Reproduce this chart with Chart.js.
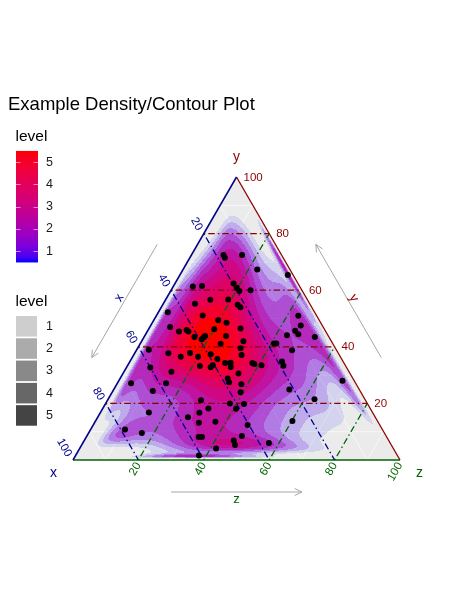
<!DOCTYPE html>
<html>
<head>
<meta charset="utf-8">
<script src="https://cdn.jsdelivr.net/npm/chart.js@4.4.1/dist/chart.umd.min.js"></script>
<style>
  html, body { margin: 0; padding: 0; background: #ffffff; }
  canvas { display: block; }
</style>
</head>
<body>
<canvas id="tern" width="474" height="612" style="width:474px;height:612px"></canvas>
<script>
// Sample compositions, in percent (x + y + z = 100)
const compX = [17.8,17.8,12.1,10.0,1.6,32.7,29.8,19.7,19.5,19.3,15.7,44.9,35.1,29.7,24.2,22.2,21.8,34.8,30.9,28.8,
  46.8,44.9,42.3,42.0,33.7,25.5,41.1,39.3,38.4,37.7,31.3,26.9,34.3,29.0,29.9,57.3,52.0,48.8,45.3,43.5,
  39.2,38.0,36.3,34.6,35.3,28.0,27.6,25.6,44.6,41.5,40.5,18.7,19.0,60.0,54.3,34.1,38.3,38.5,58.0,68.7,
  35.1,63.4,36.8,21.4,3.6,50.3,42.0,37.8,68.4,53.0,49.5,41.1,57.3,54.9,49.7,26.0,40.4,15.4,78.7,74.2,
  57.5,56.5,47.4,54.2,47.8,44.1,60.7,37.1,5.6,6.6,9.2,8.9,12.5,4.3,17.9,17.2,13.6];
const compY = [72.4,71.5,72.4,67.3,65.4,61.3,61.5,62.4,60.9,59.7,60.0,52.2,55.2,56.6,56.7,54.9,54.0,51.1,49.4,48.5,
  47.0,45.4,45.9,45.4,46.2,46.5,43.5,42.7,43.3,43.8,43.8,42.0,41.1,39.5,37.1,39.0,37.7,36.5,37.8,36.5,
  37.4,35.7,34.3,34.4,32.9,34.3,33.9,33.5,33.2,32.8,33.5,34.8,33.3,32.7,31.2,30.6,28.8,27.5,27.1,27.1,
  26.8,24.4,23.9,24.9,28.0,21.1,20.0,19.8,16.8,16.7,18.2,18.1,15.1,13.2,13.5,13.8,12.4,21.5,10.8,9.5,
  8.1,8.1,6.9,4.1,5.3,8.5,1.6,6.0,51.0,47.5,45.7,44.4,44.1,43.5,41.2,41.2,38.8];
const compZ = [9.8,10.7,15.5,22.7,33.0,6.0,8.7,17.9,19.6,21.0,24.3,2.9,9.7,13.7,19.1,22.9,24.2,14.1,19.7,22.7,
  6.2,9.7,11.8,12.6,20.1,28.0,15.4,18.0,18.3,18.5,24.9,31.1,24.6,31.5,33.0,3.7,10.3,14.7,16.9,20.0,
  23.4,26.3,29.4,31.0,31.8,37.7,38.5,40.9,22.2,25.7,26.0,46.5,47.7,7.3,14.5,35.3,32.9,34.0,14.9,4.2,
  38.1,12.2,39.3,53.7,68.4,28.6,38.0,42.4,14.8,30.3,32.3,40.8,27.6,31.9,36.8,60.2,47.2,63.1,10.5,16.3,
  34.4,35.4,45.7,41.7,46.9,47.4,37.7,56.9,43.4,45.9,45.1,46.7,43.4,52.2,40.9,41.6,47.6];

// Axis breaks and labels
const gridBreaks = [20, 40, 60, 80];
const minorBreaks = [10, 30, 50, 70, 90];
const tickValues = [20, 40, 60, 80, 100];
const tickLabels = ['20', '40', '60', '80', '100'];
const axisNames = ['x', 'y', 'z'];

// Density contour levels and legend entries
const contourLevels = [0.5, 1.0, 1.5, 2.0, 2.5, 3.0, 3.5, 4.0, 4.5, 5.0, 5.5];
const legendLevels = [1, 2, 3, 4, 5];
const chartTitle = 'Example Density/Contour Plot';
const legendTitle = 'level';

const COL_X = '#00008B', COL_Y = '#8B0000', COL_Z = '#006400';
const FONT = '"Liberation Sans", Arial, sans-serif';
const H3 = Math.sqrt(3) / 2;
const LEVEL_MIN = 0.5, LEVEL_MAX = 5.5;
const BW_ADJUST = 1.1;

// ternary (x at left, y at top, z at right) to cartesian
function toCart(x, y, z) {
  const s = x + y + z;
  return { x: (z + y / 2) / s, y: (y / s) * H3 };
}

// ---- colour helpers (CIELAB ramp blue -> red)
function lin(c) { c /= 255; return c <= 0.04045 ? c / 12.92 : Math.pow((c + 0.055) / 1.055, 2.4); }
function unlin(c) { const v = c <= 0.0031308 ? 12.92 * c : 1.055 * Math.pow(c, 1 / 2.4) - 0.055; return Math.max(0, Math.min(255, Math.round(v * 255))); }
function toLab(rgb) {
  const r = lin(rgb[0]), g = lin(rgb[1]), b = lin(rgb[2]);
  const X = (0.4124 * r + 0.3576 * g + 0.1805 * b) / 0.95047;
  const Y = 0.2126 * r + 0.7152 * g + 0.0722 * b;
  const Z = (0.0193 * r + 0.1192 * g + 0.9505 * b) / 1.08883;
  const f = t => t > 0.008856 ? Math.cbrt(t) : 7.787 * t + 16 / 116;
  const fx = f(X), fy = f(Y), fz = f(Z);
  return [116 * fy - 16, 500 * (fx - fy), 200 * (fy - fz)];
}
function fromLab(lab) {
  const fy = (lab[0] + 16) / 116, fx = fy + lab[1] / 500, fz = fy - lab[2] / 200;
  const fi = t => t > 0.206893 ? t * t * t : (t - 16 / 116) / 7.787;
  const X = fi(fx) * 0.95047, Y = fi(fy), Z = fi(fz) * 1.08883;
  const r = 3.2406 * X - 1.5372 * Y - 0.4986 * Z;
  const g = -0.9689 * X + 1.8758 * Y + 0.0415 * Z;
  const b = 0.0557 * X - 0.2040 * Y + 1.0570 * Z;
  return [unlin(r), unlin(g), unlin(b)];
}
const LAB_LOW = toLab([0, 0, 255]), LAB_HIGH = toLab([255, 0, 0]);
function rampColor(level) {
  const t = Math.max(0, Math.min(1, (level - LEVEL_MIN) / (LEVEL_MAX - LEVEL_MIN)));
  return fromLab([0, 1, 2].map(i => LAB_LOW[i] + (LAB_HIGH[i] - LAB_LOW[i]) * t));
}
function alphaOf(level) {
  return 0.1 + 0.9 * (level - LEVEL_MIN) / (LEVEL_MAX - LEVEL_MIN);
}

// ---- kernel density estimated in isometric log-ratio space,
//      expressed back on the triangle through the ilr Jacobian
function ilr(a, b, c) {
  return [Math.log(a / b) * Math.SQRT1_2, Math.log((a * b) / (c * c)) / Math.sqrt(6)];
}
function quantile(sorted, p) {
  const h = (sorted.length - 1) * p, lo = Math.floor(h);
  return sorted[lo] + (sorted[Math.min(lo + 1, sorted.length - 1)] - sorted[lo]) * (h - lo);
}
function bandwidthNrd(v) {
  const s = v.slice().sort((p, q) => p - q);
  const n = v.length, mean = v.reduce((p, q) => p + q, 0) / n;
  const sd = Math.sqrt(v.reduce((p, q) => p + (q - mean) * (q - mean), 0) / (n - 1));
  const iqr = (quantile(s, 0.75) - quantile(s, 0.25)) / 1.34;
  return 4 * 1.06 * Math.min(sd, iqr) * Math.pow(n, -0.2);
}

let densityImage = null;
function buildDensity(chart) {
  const a = chart.chartArea, sx = chart.scales.x, sy = chart.scales.y;
  const W = Math.ceil(a.right - a.left), H = Math.ceil(a.bottom - a.top);
  const U = [], V = [];
  for (let k = 0; k < compX.length; k++) {
    const p = ilr(compX[k], compY[k], compZ[k]);
    U.push(p[0]); V.push(p[1]);
  }
  const su = BW_ADJUST * bandwidthNrd(U) / 4, sv = BW_ADJUST * bandwidthNrd(V) / 4;
  const norm = 1 / (U.length * 2 * Math.PI * su * sv);
  const uMin = Math.min(...U), uMax = Math.max(...U), vMin = Math.min(...V), vMax = Math.max(...V);
  const ux = 0.5 * (uMax - uMin), vx = 0.5 * (vMax - vMin);
  const layers = contourLevels.map(l => ({ l, c: rampColor(l), al: alphaOf(l) }));
  const cv = document.createElement('canvas');
  cv.width = W; cv.height = H;
  const cx = cv.getContext('2d');
  const img = cx.createImageData(W, H);
  for (let j = 0; j < H; j++) {
    const Y = sy.getValueForPixel(a.top + j + 0.5);
    for (let i = 0; i < W; i++) {
      const X = sx.getValueForPixel(a.left + i + 0.5);
      const ty = Y / H3, tz = X - ty / 2, tx = 1 - ty - tz;
      if (tx <= 0 || ty <= 0 || tz <= 0) continue;
      const q = ilr(tx, ty, tz);
      if (q[0] < uMin - ux || q[0] > uMax + ux || q[1] < vMin - vx || q[1] > vMax + vx) continue;
      let d = 0;
      for (let k = 0; k < U.length; k++) {
        const du = (q[0] - U[k]) / su, dv = (q[1] - V[k]) / sv;
        d += Math.exp(-0.5 * (du * du + dv * dv));
      }
      const val = d * norm * 2 / (3 * tx * ty * tz);
      let r = 0, g = 0, b = 0, A = 0;
      for (const L of layers) {
        if (val < L.l) break;
        r = L.c[0] * L.al + r * (1 - L.al);
        g = L.c[1] * L.al + g * (1 - L.al);
        b = L.c[2] * L.al + b * (1 - L.al);
        A = L.al + A * (1 - L.al);
      }
      if (A <= 0) continue;
      const p = (j * W + i) * 4;
      img.data[p] = r / A; img.data[p + 1] = g / A; img.data[p + 2] = b / A;
      img.data[p + 3] = Math.round(A * 255);
    }
  }
  cx.putImageData(img, 0, 0);
  return cv;
}

// ---- datasets
const pointData = compX.map((v, i) => toCart(v, compY[i], compZ[i]));
function segment(p, q, color, width, dash) {
  return {
    data: [toCart(p[0], p[1], p[2]), toCart(q[0], q[1], q[2])],
    showLine: true, borderColor: color, borderWidth: width, borderDash: dash || [],
    pointRadius: 0, pointHoverRadius: 0, fill: false, tension: 0, clip: false, order: 1
  };
}
const DASH = [1.5, 3, 6.5, 3];
const datasets = [{
  label: 'samples', data: pointData, showLine: false, pointRadius: 3, pointHoverRadius: 3,
  pointBackgroundColor: '#000000', pointBorderWidth: 0, clip: false, order: 0
}];
gridBreaks.forEach(b => {
  datasets.push(segment([100 - b, b, 0], [0, b, 100 - b], COL_Y, 1.3, DASH));
  datasets.push(segment([b, 100 - b, 0], [b, 0, 100 - b], COL_X, 1.3, DASH));
  datasets.push(segment([100 - b, 0, b], [0, 100 - b, b], COL_Z, 1.3, DASH));
});
datasets.push(segment([100, 0, 0], [0, 100, 0], COL_X, 1.5));
datasets.push(segment([0, 100, 0], [0, 0, 100], COL_Y, 1.3));
datasets.push(segment([100, 0, 0], [0, 0, 100], COL_Z, 1.5));

function pix(chart, x, y, z) {
  const c = toCart(x, y, z);
  return [chart.scales.x.getPixelForValue(c.x), chart.scales.y.getPixelForValue(c.y)];
}

const backdropPlugin = {
  id: 'ternBackdrop',
  beforeDatasetsDraw(chart) {
    const ctx = chart.ctx, a = chart.chartArea;
    const L = pix(chart, 100, 0, 0), T = pix(chart, 0, 100, 0), R = pix(chart, 0, 0, 100);
    ctx.save();
    ctx.beginPath(); ctx.moveTo(L[0], L[1]); ctx.lineTo(T[0], T[1]); ctx.lineTo(R[0], R[1]); ctx.closePath();
    ctx.fillStyle = '#EBEBEB'; ctx.fill();
    ctx.clip();
    ctx.strokeStyle = 'rgba(255,255,255,0.8)'; ctx.lineWidth = 0.8;
    const line = (p, q) => { const A = pix(chart, ...p), B = pix(chart, ...q); ctx.beginPath(); ctx.moveTo(A[0], A[1]); ctx.lineTo(B[0], B[1]); ctx.stroke(); };
    minorBreaks.forEach(b => {
      line([100 - b, b, 0], [0, b, 100 - b]);
      line([b, 100 - b, 0], [b, 0, 100 - b]);
      line([100 - b, 0, b], [0, 100 - b, b]);
    });
    if (!densityImage) densityImage = buildDensity(chart);
    ctx.drawImage(densityImage, a.left, a.top);
    ctx.restore();
  }
};

function drawArrow(ctx, P, Q, off, labelOff, text, color) {
  const dx = Q[0] - P[0], dy = Q[1] - P[1], len = Math.hypot(dx, dy);
  const ux = dx / len, uy = dy / len;
  // outward normal (away from triangle interior)
  let nx = uy, ny = -ux;
  const cxm = 236.5, cym = 366;
  const mx = (P[0] + Q[0]) / 2, my = (P[1] + Q[1]) / 2;
  if ((mx + nx - cxm) ** 2 + (my + ny - cym) ** 2 < (mx - cxm) ** 2 + (my - cym) ** 2) { nx = -nx; ny = -ny; }
  const s = [P[0] + dx * 0.3 + nx * off, P[1] + dy * 0.3 + ny * off];
  const e = [P[0] + dx * 0.7 + nx * off, P[1] + dy * 0.7 + ny * off];
  ctx.save();
  ctx.strokeStyle = '#A6A6A6'; ctx.lineWidth = 1;
  ctx.beginPath(); ctx.moveTo(s[0], s[1]); ctx.lineTo(e[0], e[1]); ctx.stroke();
  const ang = Math.atan2(uy, ux), hl = 8, ha = 0.45;
  ctx.beginPath();
  ctx.moveTo(e[0] - hl * Math.cos(ang - ha), e[1] - hl * Math.sin(ang - ha));
  ctx.lineTo(e[0], e[1]);
  ctx.lineTo(e[0] - hl * Math.cos(ang + ha), e[1] - hl * Math.sin(ang + ha));
  ctx.stroke();
  let ta = ang;
  if (ta > Math.PI / 2) ta -= Math.PI; if (ta < -Math.PI / 2) ta += Math.PI;
  ctx.translate(mx + nx * labelOff, my + ny * labelOff);
  ctx.rotate(ta);
  ctx.fillStyle = color; ctx.font = '13px ' + FONT;
  ctx.textAlign = 'center'; ctx.textBaseline = 'middle';
  ctx.fillText(text, 0, 0);
  ctx.restore();
}

const annotationPlugin = {
  id: 'ternAnnotations',
  afterDatasetsDraw(chart) {
    const ctx = chart.ctx;
    const L = pix(chart, 100, 0, 0), T = pix(chart, 0, 100, 0), R = pix(chart, 0, 0, 100);
    ctx.save();
    ctx.font = '11.5px ' + FONT;
    // y ticks (right edge)
    tickValues.forEach((v, i) => {
      const p = pix(chart, 0, v, 100 - v);
      ctx.fillStyle = COL_Y; ctx.textAlign = 'left'; ctx.textBaseline = 'middle';
      ctx.fillText(tickLabels[i], p[0] + 7, p[1] + 0.5);
    });
    // x ticks (left edge)
    tickValues.forEach((v, i) => {
      const p = pix(chart, v, 100 - v, 0);
      ctx.save(); ctx.translate(p[0] - 4, p[1] - 4); ctx.rotate(Math.PI / 3);
      ctx.fillStyle = COL_X; ctx.textAlign = 'right'; ctx.textBaseline = 'middle';
      ctx.fillText(tickLabels[i], 0, 0); ctx.restore();
    });
    // z ticks (bottom edge)
    tickValues.forEach((v, i) => {
      const p = pix(chart, 100 - v, 0, v);
      ctx.save(); ctx.translate(p[0], p[1] + 3.5); ctx.rotate(-Math.PI / 3);
      ctx.fillStyle = COL_Z; ctx.textAlign = 'right'; ctx.textBaseline = 'middle';
      ctx.fillText(tickLabels[i], 0, 0); ctx.restore();
    });
    // vertex titles
    ctx.font = '14px ' + FONT; ctx.textAlign = 'center'; ctx.textBaseline = 'middle';
    ctx.fillStyle = COL_X; ctx.fillText(axisNames[0], L[0] - 19.5, L[1] + 13);
    ctx.fillStyle = COL_Y; ctx.fillText(axisNames[1], T[0], T[1] - 20);
    ctx.fillStyle = COL_Z; ctx.fillText(axisNames[2], R[0] + 19.5, R[1] + 13);
    ctx.restore();
    // direction arrows
    drawArrow(ctx, T, L, 35, 41, axisNames[0], COL_X);
    drawArrow(ctx, R, T, 35, 41, axisNames[1], COL_Y);
    drawArrow(ctx, L, R, 32, 39, axisNames[2], COL_Z);
  },
  afterDraw(chart) {
    const ctx = chart.ctx;
    ctx.save();
    // title
    ctx.fillStyle = '#000000'; ctx.font = '18.5px ' + FONT;
    ctx.textAlign = 'left'; ctx.textBaseline = 'alphabetic';
    ctx.fillText(chartTitle, 8, 109.5);
    // fill legend (colour bar)
    const yOf = l => 251.3 - (l - 1) * 22.3;
    ctx.font = '15.5px ' + FONT; ctx.textBaseline = 'middle';
    ctx.fillText(legendTitle, 15.5, 136.5);
    const y0 = yOf(LEVEL_MIN), y1 = yOf(LEVEL_MAX);
    const grad = ctx.createLinearGradient(0, y0, 0, y1);
    for (let t = 0; t <= 20; t++) {
      const c = rampColor(LEVEL_MIN + (LEVEL_MAX - LEVEL_MIN) * t / 20);
      grad.addColorStop(t / 20, `rgb(${c[0]},${c[1]},${c[2]})`);
    }
    ctx.fillStyle = grad; ctx.fillRect(16, y1, 22, y0 - y1);
    ctx.strokeStyle = 'rgba(255,255,255,0.55)'; ctx.lineWidth = 1;
    ctx.font = '12.5px ' + FONT; ctx.fillStyle = '#1A1A1A';
    legendLevels.forEach(l => {
      const y = Math.round(yOf(l)) + 0.5;
      ctx.beginPath(); ctx.moveTo(16, y); ctx.lineTo(20.5, y); ctx.moveTo(33.5, y); ctx.lineTo(38, y); ctx.stroke();
      ctx.fillText(String(l), 46, yOf(l));
    });
    // alpha legend
    ctx.fillStyle = '#000000'; ctx.font = '15.5px ' + FONT;
    ctx.fillText(legendTitle, 15.5, 301.5);
    ctx.font = '12.5px ' + FONT;
    legendLevels.forEach((l, i) => {
      const top = 316 + i * 22.3;
      const g = Math.round(242 - alphaOf(l) * (242 - 51));
      ctx.fillStyle = '#F2F2F2'; ctx.fillRect(16, top, 21, 20.5);
      ctx.fillStyle = `rgb(${g},${g},${g})`; ctx.fillRect(16, top, 21, 20.5);
      ctx.fillStyle = '#1A1A1A';
      ctx.fillText(String(l), 46, top + 10.3);
    });
    ctx.restore();
  }
};

new Chart(document.getElementById('tern'), {
  type: 'scatter',
  data: { datasets },
  options: {
    responsive: false,
    animation: false,
    devicePixelRatio: 1,
    events: [],
    layout: { padding: { left: 73, right: 74, top: 177, bottom: 152 } },
    scales: {
      x: { type: 'linear', min: 0, max: 1, display: false },
      y: { type: 'linear', min: 0, max: H3, display: false }
    },
    plugins: { legend: { display: false }, tooltip: { enabled: false }, title: { display: false } }
  },
  plugins: [backdropPlugin, annotationPlugin]
});
</script>
</body>
</html>
